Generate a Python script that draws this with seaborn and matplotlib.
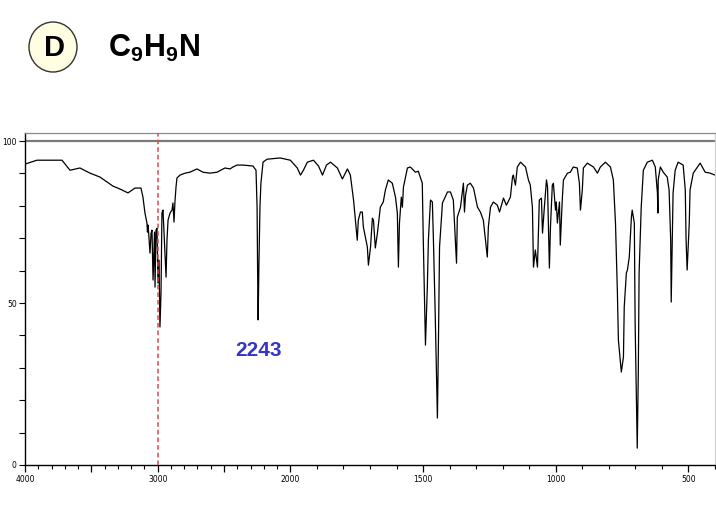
import numpy as np
import matplotlib
matplotlib.use("Agg")
import matplotlib.pyplot as plt
from matplotlib.patches import Ellipse
from matplotlib.ticker import FixedLocator, FixedFormatter
import seaborn as sns

# IR spectrum of C9H9N (cm-1, %T)
wavenumber = [
    4000, 3910, 3721, 3661, 3586, 3510, 3435, 3337, 3284, 3224, 3171, 3126,
    3111, 3096, 3081, 3077, 3073, 3066, 3058, 3050, 3043, 3035, 3028, 3024,
    3020, 3013, 3005, 2998, 2990, 2983, 2975, 2968, 2960, 2953, 2937, 2930,
    2922, 2907, 2892, 2885, 2877, 2870, 2862, 2855, 2832, 2794, 2757, 2704,
    2659, 2606, 2553, 2493, 2455, 2433, 2402, 2357, 2282, 2259, 2251, 2247,
    2243, 2237, 2229, 2222, 2206, 2176, 2078, 2000, 1974, 1962, 1951, 1936,
    1913, 1894, 1879, 1864, 1849, 1823, 1804, 1785, 1774, 1762, 1755, 1748,
    1744, 1736, 1729, 1725, 1710, 1706, 1698, 1691, 1687, 1680, 1672, 1661,
    1650, 1642, 1631, 1616, 1604, 1597, 1593, 1589, 1582, 1578, 1574, 1559,
    1548, 1529, 1518, 1503, 1499, 1491, 1484, 1480, 1472, 1465, 1461, 1454,
    1446, 1442, 1438, 1427, 1408, 1397, 1386, 1374, 1371, 1359, 1348, 1344,
    1340, 1333, 1322, 1310, 1295, 1284, 1273, 1258, 1254, 1246, 1235, 1220,
    1212, 1201, 1197, 1186, 1171, 1163, 1160, 1152, 1145, 1133, 1114, 1103,
    1096, 1088, 1084, 1077, 1069, 1065, 1062, 1054, 1050, 1043, 1035, 1031,
    1024, 1020, 1013, 1009, 1001, 998, 994, 986, 983, 975, 971, 956,
    945, 934, 919, 911, 907, 900, 896, 881, 858, 843, 832, 813,
    794, 783, 775, 768, 764, 753, 745, 742, 734, 730, 723, 715,
    712, 704, 701, 693, 689, 686, 678, 670, 655, 636, 625, 617,
    615, 614, 606, 595, 580, 573, 567, 565, 561, 558, 550, 539,
    520, 512, 509, 505, 497, 494, 482, 456, 437, 418, 400,
]
transmittance = [
    92.9, 94.1, 94.1, 91.0, 91.7, 90.1, 88.9, 86.1, 85.2, 84.0, 85.5, 85.5,
    82.7, 77.8, 74.7, 71.9, 74.1, 70.4, 65.4, 71.6, 72.5, 57.1, 66.4, 71.9,
    54.9, 72.5, 73.1, 56.2, 63.3, 42.6, 53.1, 77.8, 78.7, 72.5, 58.0, 69.4,
    75.6, 77.8, 78.7, 80.9, 75.0, 81.2, 85.8, 88.6, 89.5, 90.1, 90.4, 91.4,
    90.4, 90.1, 90.4, 91.7, 91.4, 92.0, 92.6, 92.6, 92.3, 91.0, 79.6, 60.0,
    44.8, 62.3, 80.0, 87.0, 93.5, 94.4, 94.8, 94.1, 91.7, 89.5, 91.0, 93.5,
    94.1, 92.3, 89.5, 92.6, 93.5, 91.7, 88.3, 91.4, 89.5, 81.8, 75.6, 69.4,
    75.6, 78.1, 78.1, 73.5, 67.3, 61.7, 67.3, 76.2, 75.6, 67.0, 71.6, 79.6,
    81.2, 84.9, 88.0, 87.0, 82.7, 77.8, 61.1, 74.7, 82.7, 79.6, 85.8, 91.7,
    92.0, 90.4, 90.7, 87.0, 68.5, 37.0, 54.9, 69.4, 81.8, 81.2, 69.4, 45.7,
    14.5, 38.6, 67.3, 80.9, 84.3, 84.3, 81.8, 62.3, 76.5, 79.6, 87.0, 78.1,
    83.3, 86.4, 87.0, 85.5, 79.6, 78.1, 75.6, 64.2, 73.5, 79.6, 81.2, 80.2,
    78.1, 81.2, 82.4, 80.2, 82.7, 88.9, 89.5, 86.4, 92.0, 93.5, 92.0, 88.0,
    86.4, 79.6, 61.1, 66.4, 61.1, 73.5, 81.8, 82.4, 71.6, 79.6, 88.0, 85.8,
    60.8, 73.5, 86.4, 87.0, 78.7, 81.2, 74.7, 81.2, 67.9, 82.7, 88.0, 90.1,
    90.4, 92.0, 91.7, 87.0, 78.7, 84.9, 91.7, 93.2, 92.0, 90.1, 92.0, 93.5,
    92.0, 88.0, 74.7, 54.0, 38.6, 28.7, 33.3, 48.8, 59.3, 60.2, 64.2, 76.5,
    78.7, 74.7, 43.8, 5.2, 28.4, 59.3, 79.6, 91.0, 93.5, 94.1, 92.0, 84.0,
    77.8, 88.0, 92.0, 90.4, 88.9, 84.9, 69.4, 50.3, 69.4, 84.0, 91.0, 93.5,
    92.6, 84.9, 69.4, 60.2, 74.7, 84.9, 90.1, 93.2, 90.4, 90.1, 89.5,
]

x_major = [4000, 3500, 3000, 2500, 2000, 1500, 1000, 500]
x_major_labels = ["4000", "", "3000", "", "2000", "1500", "1000", "500"]
x_minor = list(range(400, 4001, 100))
y_major = [0, 50, 100]
y_major_labels = ["0", "50", "100"]
y_minor = list(range(0, 101, 10))

marker_wn = 3000
peak_label = "2243"
peak_pos = (2243, 35.2)


def fwd(w):
    # spectrometer chart: 4000-2000 at half the scale of 2000-400
    w = np.asarray(w, dtype=float)
    return np.where(w > 2000, 2000 + (w - 2000) / 2.0, w)


def inv(p):
    p = np.asarray(p, dtype=float)
    return np.where(p > 2000, 2000 + (p - 2000) * 2.0, p)


sns.set_style("white")
plt.rcParams["font.family"] = ["Liberation Sans", "DejaVu Sans"]
plt.rcParams["text.color"] = "black"
plt.rcParams["xtick.color"] = "black"
plt.rcParams["ytick.color"] = "black"
plt.rcParams["mathtext.fontset"] = "custom"
plt.rcParams["mathtext.bf"] = "Liberation Sans:bold"
plt.rcParams["mathtext.rm"] = "Liberation Sans"

fig = plt.figure(figsize=(7.16, 5.22), dpi=100)
ax = fig.add_axes([25 / 716, 57 / 522, 690 / 716, 332 / 522])

sns.lineplot(x=wavenumber, y=transmittance, sort=False, estimator=None,
             color="black", lw=0.9, ax=ax)

ax.set_xscale("function", functions=(fwd, inv))
ax.set_xlim(4000, 400)
ax.set_ylim(0, 102.5)

ax.axhline(100, color="#7a7a7a", lw=1.6, zorder=1)
ax.axvline(marker_wn, color="#e04a4a", ls=(0, (3, 2)), lw=1.1, zorder=3)

ax.xaxis.set_major_locator(FixedLocator(x_major))
ax.xaxis.set_major_formatter(FixedFormatter(x_major_labels))
ax.xaxis.set_minor_locator(FixedLocator(x_minor))
ax.yaxis.set_major_locator(FixedLocator(y_major))
ax.yaxis.set_major_formatter(FixedFormatter(y_major_labels))
ax.yaxis.set_minor_locator(FixedLocator(y_minor))

ax.tick_params(axis="x", which="major", length=5, width=0.9, labelsize=5.5,
               pad=2, direction="out", bottom=True, colors="black")
ax.tick_params(axis="x", which="minor", length=3, width=0.8, direction="out",
               bottom=True, colors="black")
ax.tick_params(axis="y", which="both", length=4, width=0.8, labelsize=5.5,
               pad=2, direction="out", left=True, colors="black")
for lab in ax.get_xticklabels() + ax.get_yticklabels():
    lab.set_family("DejaVu Sans")

for side in ["left", "bottom"]:
    ax.spines[side].set_color("black")
    ax.spines[side].set_linewidth(1.0)
ax.spines["top"].set_color("#8a8a8a")
ax.spines["top"].set_linewidth(0.9)
ax.spines["right"].set_color("#d0d0d0")
ax.spines["right"].set_linewidth(0.9)
ax.set_xlabel("")
ax.set_ylabel("")

ax.text(peak_pos[0], peak_pos[1], peak_label, color="#3535c8",
        fontsize=15, fontweight="bold", ha="center", va="center")

# header: circled letter and formula
fig.add_artist(Ellipse((53 / 716, 1 - 47 / 522), 48 / 716, 50 / 522,
                       transform=fig.transFigure, facecolor="#fffee2",
                       edgecolor="#333333", lw=1.0))
fig.text(54 / 716, 1 - 48 / 522, "D", fontsize=21, fontweight="bold",
         color="black", ha="center", va="center")
fig.text(108 / 716, 1 - 57 / 522, r"$\mathbf{C_9H_9N}$", fontsize=22,
         color="black", ha="left", va="baseline")

fig.savefig("out.png", dpi=100)
